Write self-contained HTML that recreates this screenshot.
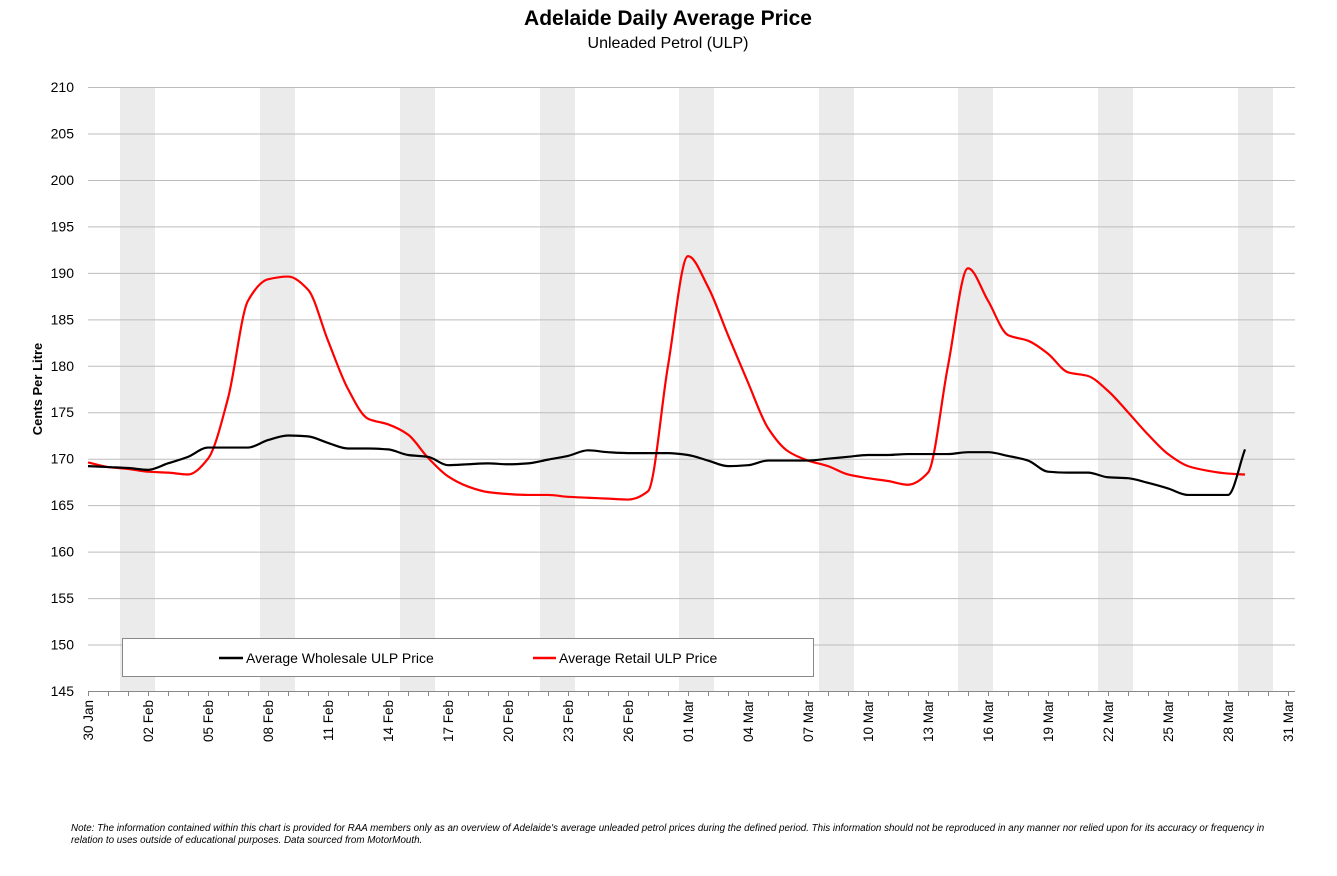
<!DOCTYPE html>
<html><head><meta charset="utf-8"><style>
body{margin:0;background:#fff;font-family:"Liberation Sans",sans-serif}
</style></head><body>
<svg width="1337" height="871" xmlns="http://www.w3.org/2000/svg" font-family="Liberation Sans, sans-serif">
<rect width="1337" height="871" fill="#fff"/>
<text x="668" y="25" text-anchor="middle" font-size="21" font-weight="bold">Adelaide Daily Average Price</text>
<text x="668" y="48" text-anchor="middle" font-size="16">Unleaded Petrol (ULP)</text>
<g id="bands" fill="#ebebeb"></g>
<g id="grid" stroke="#bdbdbd" stroke-width="1"></g>
<g id="ylab" font-size="14" text-anchor="end" fill="#000"></g>
<g id="xax" stroke="#888" stroke-width="1"></g>
<g id="xlab" font-size="13.5" fill="#000"></g>
<text transform="translate(42,389) rotate(-90)" text-anchor="middle" font-size="13" font-weight="bold">Cents Per Litre</text>
<path id="ret" fill="none" stroke="#ff0000" stroke-width="2.2"/>
<path id="whs" fill="none" stroke="#000" stroke-width="2.2"/>
<rect x="122.5" y="638.5" width="691" height="38" fill="#fff" stroke="#888"/>
<line x1="219" y1="658" x2="243" y2="658" stroke="#000" stroke-width="2.5"/>
<text x="246" y="663" font-size="14">Average Wholesale ULP Price</text>
<line x1="533" y1="658" x2="556" y2="658" stroke="#ff0000" stroke-width="2.5"/>
<text x="559" y="663" font-size="14">Average Retail ULP Price</text>
<text x="71" y="831" font-size="9.8" font-style="italic">Note: The information contained within this chart is provided for RAA members only as an overview of Adelaide's average unleaded petrol prices during the defined period. This information should not be reproduced in any manner nor relied upon for its accuracy or frequency in</text>
<text x="71" y="843" font-size="9.8" font-style="italic">relation to uses outside of educational purposes. Data sourced from MotorMouth.</text>
</svg>
<script>
const NS="http://www.w3.org/2000/svg";
function el(g,t,a,txt){const e=document.createElementNS(NS,t);for(const k in a)e.setAttribute(k,a[k]);if(txt)e.textContent=txt;document.getElementById(g).appendChild(e);}
const Y=v=>691-(v-145)*9.292;
for(let k=0;k<9;k++)el("bands","rect",{x:120+140*k-(k>=4?1:0)-(k>=6?1:0),y:87,width:35,height:604});
for(let v=150;v<=210;v+=5){el("grid","line",{x1:88,x2:1295,y1:Y(v)+.5,y2:Y(v)+.5});}
for(let v=145;v<=210;v+=5)el("ylab","text",{x:74,y:Y(v)+5},String(v));
el("xax","line",{x1:88,x2:1295,y1:691.5,y2:691.5});
for(let d=0;d<=60;d++)el("xax","line",{x1:88+20*d+.5,x2:88+20*d+.5,y1:691,y2:696});
const labs=["30 Jan","02 Feb","05 Feb","08 Feb","11 Feb","14 Feb","17 Feb","20 Feb","23 Feb","26 Feb","01 Mar","04 Mar","07 Mar","10 Mar","13 Mar","16 Mar","19 Mar","22 Mar","25 Mar","28 Mar","31 Mar"];
labs.forEach((l,i)=>{const x=88+60*i+5;el("xlab","text",{transform:`translate(${x},700) rotate(-90)`,"text-anchor":"end"},l);});
const W=[169.2,169.1,169,168.8,169.5,170.2,171.2,171.2,171.2,172,172.5,172.4,171.7,171.1,171.1,171,170.4,170.2,169.3,169.4,169.5,169.4,169.5,169.9,170.3,170.9,170.7,170.6,170.6,170.6,170.4,169.8,169.2,169.3,169.8,169.8,169.8,170,170.2,170.4,170.4,170.5,170.5,170.5,170.7,170.7,170.3,169.8,168.6,168.5,168.5,168,167.9,167.4,166.8,166.1,166.1,166.1];
const R=[169.6,169.1,168.9,168.6,168.5,168.3,170,176.5,187,189.3,189.6,188.2,182.7,177.5,174.3,173.7,172.6,170.1,168.1,167,166.4,166.2,166.1,166.1,165.9,165.8,165.7,165.6,166.5,180,191.8,188.5,183.3,178.2,173.3,170.8,169.8,169.2,168.3,167.9,167.6,167.2,168.5,180,190.5,187,183.3,182.7,181.3,179.3,178.9,177.3,175,172.6,170.5,169.2,168.7,168.4];
function path(arr,last){const p=arr.map((v,i)=>[88+20*i,Y(v)]);p.push([1245,Y(last)]);
const n=p.length,dl=[],m=[];
for(let i=0;i<n-1;i++)dl.push((p[i+1][1]-p[i][1])/(p[i+1][0]-p[i][0]));
m[0]=dl[0];m[n-1]=dl[n-2];
for(let i=1;i<n-1;i++){if(dl[i-1]*dl[i]<=0)m[i]=0;else{const h0=p[i][0]-p[i-1][0],h1=p[i+1][0]-p[i][0];m[i]=3*(h0+h1)/((2*h1+h0)/dl[i-1]+(h1+2*h0)/dl[i]);}}
let d=`M${p[0][0]},${p[0][1]}`;
for(let i=0;i<n-1;i++){const h=(p[i+1][0]-p[i][0])/3;d+=` C${p[i][0]+h},${p[i][1]+m[i]*h} ${p[i+1][0]-h},${p[i+1][1]-m[i+1]*h} ${p[i+1][0]},${p[i+1][1]}`;}
return d;}
document.getElementById("whs").setAttribute("d",path(W,171));
document.getElementById("ret").setAttribute("d",path(R,168.3));
</script>
</body></html>
